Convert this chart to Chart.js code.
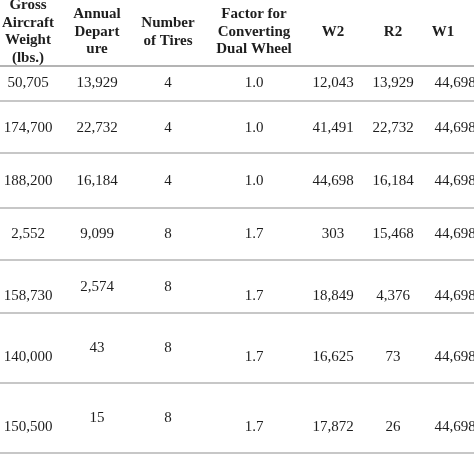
<!DOCTYPE html>
<html><head><meta charset="utf-8">
<script src="https://cdn.jsdelivr.net/npm/chart.js@4"></script>
<style>html,body{margin:0;padding:0;background:#fff}#w{width:474px;height:474px}</style>
</head><body><div id="w"><canvas id="c"></canvas></div>
<script>
const headers = [["Gross","Aircraft","Weight","(lbs.)"],["Annual","Depart","ure"],["Number","of Tires"],["Factor for","Converting","Dual Wheel"],["W2"],["R2"],["W1"]];
const grossWeight = ["50,705","174,700","188,200","2,552","158,730","140,000","150,500"];
const annualDeparture = ["13,929","22,732","16,184","9,099","2,574","43","15"];
const numberOfTires = ["4","4","4","8","8","8","8"];
const factor = ["1.0","1.0","1.0","1.7","1.7","1.7","1.7"];
const w2 = ["12,043","41,491","44,698","303","18,849","16,625","17,872"];
const r2 = ["13,929","22,732","16,184","15,468","4,376","73","26"];
const w1 = ["44,698","44,698","44,698","44,698","44,698","44,698","44,698"];
const columns = [grossWeight, annualDeparture, numberOfTires, factor, w2, r2, w1];

// layout (pixel-space positions on linear scales 0..474)
const colX = [28, 97, 168, 254, 333, 393, 455];
const headX = [28, 97, 168, 254, 333, 393, 443];
const rowY = [83, 128, 181, 234, 296, 357, 427];
const raisedCols = [1, 2]; // in taller rows these sit higher
const lineY = [66, 101, 153, 208, 260, 313, 383, 453];
const headTop = [5, 14, 23, 14, 32, 32, 32];

const tablePlugin = {
  id: 'table',
  afterDatasetsDraw(chart) {
    const ctx = chart.ctx, xs = chart.scales.x, ys = chart.scales.y;
    ctx.save();
    ctx.strokeStyle = '#b4b4b4';
    lineY.forEach((y, i) => {
      ctx.lineWidth = i === 0 ? 2.2 : 1.6;
      ctx.beginPath();
      ctx.moveTo(xs.getPixelForValue(0), ys.getPixelForValue(y));
      ctx.lineTo(xs.getPixelForValue(474), ys.getPixelForValue(y));
      ctx.stroke();
    });
    ctx.fillStyle = '#1e1e1e';
    ctx.textAlign = 'center';
    ctx.textBaseline = 'middle';
    ctx.font = 'bold 15px "Liberation Serif"';
    headers.forEach((lines, c) => {
      lines.forEach((t, k) => {
        ctx.fillText(t, xs.getPixelForValue(headX[c]), ys.getPixelForValue(headTop[c] + k * 17.7));
      });
    });
    ctx.font = '15px "Liberation Serif"';
    columns.forEach((col, c) => {
      col.forEach((t, r) => {
        let y = rowY[r];
        if (r >= 4 && raisedCols.includes(c)) y -= 9;
        ctx.fillText(t, xs.getPixelForValue(colX[c]), ys.getPixelForValue(y));
      });
    });
    ctx.restore();
  }
};

new Chart(document.getElementById('c'), {
  type: 'scatter',
  data: { datasets: [{ data: [], pointRadius: 0 }] },
  options: {
    responsive: true, maintainAspectRatio: false, animation: false,
    layout: { padding: 0 },
    plugins: { legend: { display: false }, tooltip: { enabled: false } },
    scales: {
      x: { type: 'linear', min: 0, max: 474, display: false },
      y: { type: 'linear', min: 0, max: 474, reverse: true, display: false }
    }
  },
  plugins: [tablePlugin]
});
</script></body></html>
